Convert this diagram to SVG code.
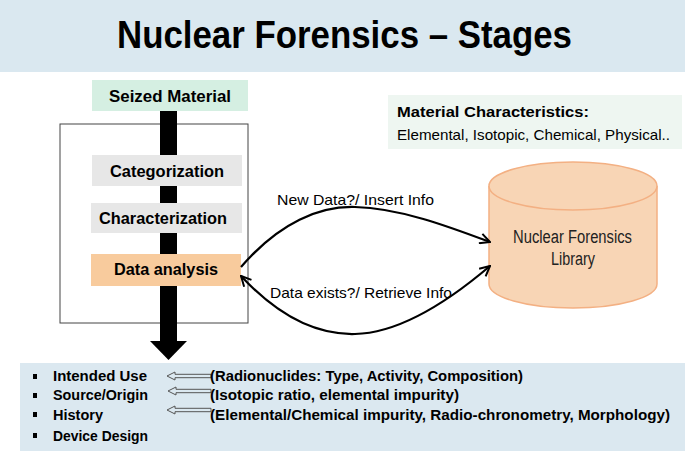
<svg xmlns="http://www.w3.org/2000/svg" width="685" height="451" viewBox="0 0 685 451">
<style>
.b{font-family:"Liberation Sans",Arial,sans-serif;font-weight:bold;fill:#000}
.r{font-family:"Liberation Sans",Arial,sans-serif;fill:#000}
.conn{fill:none;stroke:#000;stroke-width:2.2}
.hollow{fill:#dbe8f0;stroke:#555;stroke-width:1}
</style>
<defs>
<marker id="ah" viewBox="0 0 12 12" refX="11" refY="6" markerWidth="12" markerHeight="12" markerUnits="userSpaceOnUse" orient="auto-start-reverse">
<path d="M1,1 L11,6 L1,11" fill="none" stroke="#000" stroke-width="2"/>
</marker>
</defs>
<rect x="0" y="0" width="685" height="72" fill="#dae8f0"/>
<text class="b" x="344.5" y="48" font-size="39" text-anchor="middle" textLength="455" lengthAdjust="spacingAndGlyphs">Nuclear Forensics – Stages</text>

<g id="container">
<rect x="60" y="124" width="188" height="199" fill="#fff" stroke="#444" stroke-width="1"/>
</g>
<g id="flow-arrow">
<rect x="160" y="110" width="17" height="233" fill="#000"/>
<polygon points="150,341 187,341 168.5,360" fill="#000"/>
</g>
<g id="seized">
<rect x="92" y="80" width="156" height="31" fill="#d5efe2"/>
<text class="b" x="170" y="102" font-size="16.5" text-anchor="middle" textLength="122" lengthAdjust="spacingAndGlyphs">Seized Material</text>
</g>
<g id="categorization">
<rect x="92" y="155" width="150" height="31" fill="#e7e7e7"/>
<text class="b" x="167" y="177" font-size="16.5" text-anchor="middle" textLength="114" lengthAdjust="spacingAndGlyphs">Categorization</text>
</g>
<g id="characterization">
<rect x="91" y="203" width="151" height="30" fill="#e7e7e7"/>
<text class="b" x="163" y="224" font-size="16.5" text-anchor="middle" textLength="128" lengthAdjust="spacingAndGlyphs">Characterization</text>
</g>
<g id="data-analysis">
<rect x="91" y="254" width="150" height="32" fill="#f8cb9d"/>
<text class="b" x="166" y="275" font-size="16.5" text-anchor="middle" textLength="104" lengthAdjust="spacingAndGlyphs">Data analysis</text>
</g>

<g id="material-characteristics">
<rect x="388" y="95" width="294" height="54" fill="#eef6f1"/>
<text class="b" x="397" y="117" font-size="15.5" textLength="192" lengthAdjust="spacingAndGlyphs">Material Characteristics:</text>
<text class="r" x="397" y="140" font-size="15" textLength="273" lengthAdjust="spacingAndGlyphs">Elemental, Isotopic, Chemical, Physical..</text>
</g>

<g id="library">
<path d="M489,186 L489,284 A84,24 0 0 0 657,284 L657,186" fill="#f8d5b5" stroke="#f3b083" stroke-width="1.5"/>
<ellipse cx="573" cy="186" rx="84" ry="24" fill="#f8d5b5" stroke="#f3b083" stroke-width="1.5"/>
<text class="r" x="572.5" y="243" font-size="18" text-anchor="middle" textLength="119" lengthAdjust="spacingAndGlyphs" style="fill:#222">Nuclear Forensics</text>
<text class="r" x="573" y="265" font-size="18" text-anchor="middle" textLength="44" lengthAdjust="spacingAndGlyphs" style="fill:#222">Library</text>
</g>

<g id="connectors">
<path class="conn" d="M241,267 C280,222 320,206 355,207 C400,208 450,227 490,242" marker-end="url(#ah)"/>
<path class="conn" d="M241,276 C280,318 318,335 355,334 C400,333 450,300 490,266" marker-start="url(#ah)" marker-end="url(#ah)"/>
</g>
<text class="r" x="277" y="205" font-size="14.5" textLength="157" lengthAdjust="spacingAndGlyphs">New Data?/ Insert Info</text>
<text class="r" x="270" y="298" font-size="14.5" textLength="182" lengthAdjust="spacingAndGlyphs">Data exists?/ Retrieve Info</text>

<g id="outcomes">
<rect x="20" y="363" width="665" height="88" fill="#dbe8f0"/>
<rect x="33" y="374" width="4" height="5" fill="#000"/>
<rect x="33" y="393" width="4" height="5" fill="#000"/>
<rect x="33" y="412" width="4" height="5" fill="#000"/>
<rect x="33" y="433" width="4" height="5" fill="#000"/>
<text class="b" x="53" y="381" font-size="14" textLength="94" lengthAdjust="spacingAndGlyphs">Intended Use</text>
<text class="b" x="53" y="400" font-size="14" textLength="95" lengthAdjust="spacingAndGlyphs">Source/Origin</text>
<text class="b" x="53" y="420" font-size="14" textLength="50" lengthAdjust="spacingAndGlyphs">History</text>
<text class="b" x="53" y="441" font-size="14" textLength="95" lengthAdjust="spacingAndGlyphs">Device Design</text>
<polygon class="hollow" points="167,376 175,372 175,374.3 211,374.3 211,377.7 175,377.7 175,380"/>
<polygon class="hollow" points="168,391 176,387 176,389.3 211,389.3 211,392.7 176,392.7 176,395"/>
<polygon class="hollow" points="167,410 175,406 175,408.3 211,408.3 211,411.7 175,411.7 175,414"/>
<text class="b" x="210" y="381" font-size="14" textLength="313" lengthAdjust="spacingAndGlyphs">(Radionuclides: Type, Activity, Composition)</text>
<text class="b" x="210" y="400" font-size="14" textLength="249" lengthAdjust="spacingAndGlyphs">(Isotopic ratio, elemental impurity)</text>
<text class="b" x="210" y="420" font-size="14" textLength="460" lengthAdjust="spacingAndGlyphs">(Elemental/Chemical impurity, Radio-chronometry, Morphology)</text>
</g>
</svg>
